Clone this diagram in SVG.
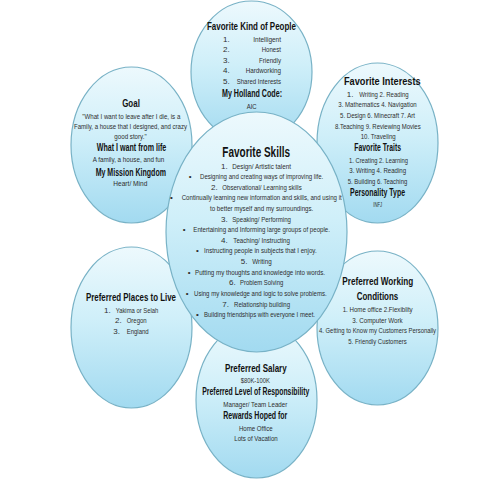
<svg xmlns="http://www.w3.org/2000/svg" width="480" height="480" viewBox="0 0 480 480">
<defs>
<linearGradient id="g" x1="0" y1="0" x2="0" y2="1">
<stop offset="0" stop-color="#edf9fd"/>
<stop offset="0.45" stop-color="#cfeff9"/>
<stop offset="1" stop-color="#a2daf0"/>
</linearGradient>
<style>
.e{fill:url(#g);stroke:#78b2c6;stroke-width:1.2}
text{font-family:"Liberation Sans",Arial,sans-serif;fill:#2e2e2e}
.h{font-weight:bold;font-size:10.5px;fill:#111;text-anchor:middle}
.t{font-weight:bold;font-size:14.5px;fill:#111;text-anchor:middle}
.b{font-size:8px}
.m{text-anchor:middle}
.r{text-anchor:end}
</style>
</defs>
<rect width="480" height="480" fill="#fff"/>

<g id="people">
<ellipse class="e" cx="251.5" cy="72" rx="60.5" ry="71"/>
<text class="h" x="251.5" y="30" textLength="89" lengthAdjust="spacingAndGlyphs">Favorite Kind of People</text>
<text class="b" x="223" y="41.7">1.</text>
<text class="b" x="223" y="52.3">2.</text>
<text class="b" x="223" y="63">3.</text>
<text class="b" x="223" y="73.3">4.</text>
<text class="b" x="223" y="83.7">5.</text>
<text class="b r" x="281" y="41.7" textLength="27.7" lengthAdjust="spacingAndGlyphs">Intelligent</text>
<text class="b r" x="281" y="52.3" textLength="19.3" lengthAdjust="spacingAndGlyphs">Honest</text>
<text class="b r" x="281" y="63" textLength="22" lengthAdjust="spacingAndGlyphs">Friendly</text>
<text class="b r" x="281" y="73.3" textLength="35.3" lengthAdjust="spacingAndGlyphs">Hardworking</text>
<text class="b r" x="281" y="83.7" textLength="44.3" lengthAdjust="spacingAndGlyphs">Shared Interests</text>
<text class="h" x="252" y="96.7" textLength="60" lengthAdjust="spacingAndGlyphs">My Holland Code:</text>
<text class="b m" x="251.7" y="109" textLength="10" lengthAdjust="spacingAndGlyphs">AIC</text>
</g>

<g id="goal">
<ellipse class="e" cx="131.5" cy="145" rx="60.5" ry="78"/>
<text class="h" x="131" y="106.7" textLength="17.7" lengthAdjust="spacingAndGlyphs">Goal</text>
<text class="b m" x="131.3" y="118.7" textLength="98" lengthAdjust="spacingAndGlyphs">"What I want to leave after I die, is a</text>
<text class="b m" x="130.5" y="129.3" textLength="113" lengthAdjust="spacingAndGlyphs">Family, a house that I designed, and crazy</text>
<text class="b m" x="130.5" y="139.3" textLength="32.3" lengthAdjust="spacingAndGlyphs">good story."</text>
<text class="h" x="131.5" y="151" textLength="69.6" lengthAdjust="spacingAndGlyphs">What I want from life</text>
<text class="b m" x="128.5" y="161.7" textLength="71.7" lengthAdjust="spacingAndGlyphs">A family, a house, and fun</text>
<text class="h" x="130.8" y="175.7" textLength="70.3" lengthAdjust="spacingAndGlyphs">My Mission Kingdom</text>
<text class="b m" x="130.3" y="186" textLength="34" lengthAdjust="spacingAndGlyphs">Heart/ Mind</text>
</g>

<g id="interests">
<ellipse class="e" cx="377.5" cy="143" rx="60.5" ry="80"/>
<text class="h" x="382.3" y="85" textLength="76.7" lengthAdjust="spacingAndGlyphs">Favorite Interests</text>
<text class="b" x="346.7" y="96.7">1.</text>
<text class="b" x="359.3" y="96.7" textLength="49.4" lengthAdjust="spacingAndGlyphs">Writing 2. Reading</text>
<text class="b m" x="377.5" y="107.3" textLength="78.4" lengthAdjust="spacingAndGlyphs">3. Mathematics 4. Navigation</text>
<text class="b m" x="377.5" y="118.3" textLength="75" lengthAdjust="spacingAndGlyphs">5. Design 6. Minecraft 7. Art</text>
<text class="b m" x="377.8" y="128.7" textLength="85.7" lengthAdjust="spacingAndGlyphs">8.Teaching 9. Reviewing Movies</text>
<text class="b m" x="378.2" y="139.3" textLength="35" lengthAdjust="spacingAndGlyphs">10. Traveling</text>
<text class="h" x="377.7" y="151" textLength="46.7" lengthAdjust="spacingAndGlyphs">Favorite Traits</text>
<text class="b m" x="378.5" y="162.5" textLength="59" lengthAdjust="spacingAndGlyphs">1. Creating 2. Learning</text>
<text class="b m" x="377.7" y="173.3" textLength="56.7" lengthAdjust="spacingAndGlyphs">3. Writing 4. Reading</text>
<text class="b m" x="377.5" y="184" textLength="59.6" lengthAdjust="spacingAndGlyphs">5. Building 6. Teaching</text>
<text class="h" x="377.5" y="195.5" textLength="55" lengthAdjust="spacingAndGlyphs">Personality Type</text>
<text class="b m" x="377.7" y="207" textLength="9" lengthAdjust="spacingAndGlyphs">INFJ</text>
</g>

<g id="places">
<ellipse class="e" cx="131.5" cy="327.5" rx="60.5" ry="80.5"/>
<text class="h" x="131" y="300.7" textLength="90" lengthAdjust="spacingAndGlyphs">Preferred Places to Live</text>
<text class="b" x="104" y="312.7">1.</text>
<text class="b" x="115.7" y="312.7" textLength="42.6" lengthAdjust="spacingAndGlyphs">Yakima or Selah</text>
<text class="b" x="115" y="323.3">2.</text>
<text class="b" x="126.7" y="323.3" textLength="20" lengthAdjust="spacingAndGlyphs">Oregon</text>
<text class="b" x="113.3" y="334">3.</text>
<text class="b" x="126.7" y="334" textLength="22" lengthAdjust="spacingAndGlyphs">England</text>
</g>

<g id="working">
<ellipse class="e" cx="377.5" cy="328" rx="60.5" ry="77"/>
<text class="h" x="377.8" y="285" textLength="71" lengthAdjust="spacingAndGlyphs">Preferred Working</text>
<text class="h" x="377.5" y="300" textLength="41.6" lengthAdjust="spacingAndGlyphs">Conditions</text>
<text class="b m" x="377.7" y="311.7" textLength="70" lengthAdjust="spacingAndGlyphs">1. Home office 2.Flexiblity</text>
<text class="b m" x="377.5" y="322.5" textLength="50.4" lengthAdjust="spacingAndGlyphs">3. Computer Work</text>
<text class="b m" x="377.5" y="333.3" textLength="117" lengthAdjust="spacingAndGlyphs">4. Getting to Know my Customers Personally</text>
<text class="b m" x="377.5" y="344" textLength="58.4" lengthAdjust="spacingAndGlyphs">5. Friendly Customers</text>
</g>

<g id="salary">
<ellipse class="e" cx="256.5" cy="400" rx="60.5" ry="78"/>
<text class="h" x="255.8" y="371.7" textLength="61.7" lengthAdjust="spacingAndGlyphs">Preferred Salary</text>
<text class="b m" x="255.3" y="383.3" textLength="29.3" lengthAdjust="spacingAndGlyphs">$80K-100K</text>
<text class="h" x="255.8" y="395" textLength="107" lengthAdjust="spacingAndGlyphs">Preferred Level of Responsibility</text>
<text class="b m" x="255.3" y="406.7" textLength="64" lengthAdjust="spacingAndGlyphs">Manager/ Team Leader</text>
<text class="h" x="255.3" y="419" textLength="64" lengthAdjust="spacingAndGlyphs">Rewards Hoped for</text>
<text class="b m" x="255.8" y="430.7" textLength="33.7" lengthAdjust="spacingAndGlyphs">Home Office</text>
<text class="b m" x="256" y="440.7" textLength="43.4" lengthAdjust="spacingAndGlyphs">Lots of Vacation</text>
</g>

<g id="skills">
<ellipse class="e" cx="256.5" cy="232" rx="90.5" ry="120"/>
<text class="t" x="256.2" y="157" textLength="67.7" lengthAdjust="spacingAndGlyphs">Favorite Skills</text>
<text class="b" x="221" y="169">1.</text>
<text class="b" x="232.3" y="169" textLength="58.7" lengthAdjust="spacingAndGlyphs">Design/ Artistic talent</text>
<text class="b" x="188.7" y="179.3">•</text>
<text class="b" x="200" y="179.3" textLength="123.3" lengthAdjust="spacingAndGlyphs">Designing and creating ways of improving life.</text>
<text class="b" x="211" y="190">2.</text>
<text class="b" x="222.3" y="190" textLength="79.4" lengthAdjust="spacingAndGlyphs">Observational/ Learning skills</text>
<text class="b" x="170" y="200.3">•</text>
<text class="b" x="181.7" y="200.3" textLength="160" lengthAdjust="spacingAndGlyphs">Continually learning new information and skills, and using it</text>
<text class="b" x="210" y="211" textLength="103.3" lengthAdjust="spacingAndGlyphs">to better myself and my surroundings.</text>
<text class="b" x="221" y="222">3.</text>
<text class="b" x="232.3" y="222" textLength="58.7" lengthAdjust="spacingAndGlyphs">Speaking/ Performing</text>
<text class="b" x="182.7" y="232.3">•</text>
<text class="b" x="193.3" y="232.3" textLength="136.7" lengthAdjust="spacingAndGlyphs">Entertaining and Informing large groups of people.</text>
<text class="b" x="221" y="242.7">4.</text>
<text class="b" x="233.3" y="242.7" textLength="56.7" lengthAdjust="spacingAndGlyphs">Teaching/ Instructing</text>
<text class="b" x="196" y="253.3">•</text>
<text class="b" x="204" y="253.3" textLength="112.7" lengthAdjust="spacingAndGlyphs">Instructing people in subjects that I enjoy.</text>
<text class="b" x="240.7" y="264">5.</text>
<text class="b" x="252.3" y="264" textLength="19.4" lengthAdjust="spacingAndGlyphs">Writing</text>
<text class="b" x="187.7" y="274.7">•</text>
<text class="b" x="195" y="274.7" textLength="130" lengthAdjust="spacingAndGlyphs">Putting my thoughts and knowledge into words.</text>
<text class="b" x="229" y="285.3">6.</text>
<text class="b" x="240" y="285.3" textLength="43.3" lengthAdjust="spacingAndGlyphs">Problem Solving</text>
<text class="b" x="185.7" y="296">•</text>
<text class="b" x="194" y="296" textLength="132.7" lengthAdjust="spacingAndGlyphs">Using my knowledge and logic to solve problems.</text>
<text class="b" x="222.3" y="306.7">7.</text>
<text class="b" x="234" y="306.7" textLength="56" lengthAdjust="spacingAndGlyphs">Relationship building</text>
<text class="b" x="196" y="317.3">•</text>
<text class="b" x="204" y="317.3" textLength="111" lengthAdjust="spacingAndGlyphs">Building friendships with everyone I meet.</text>
</g>
</svg>
